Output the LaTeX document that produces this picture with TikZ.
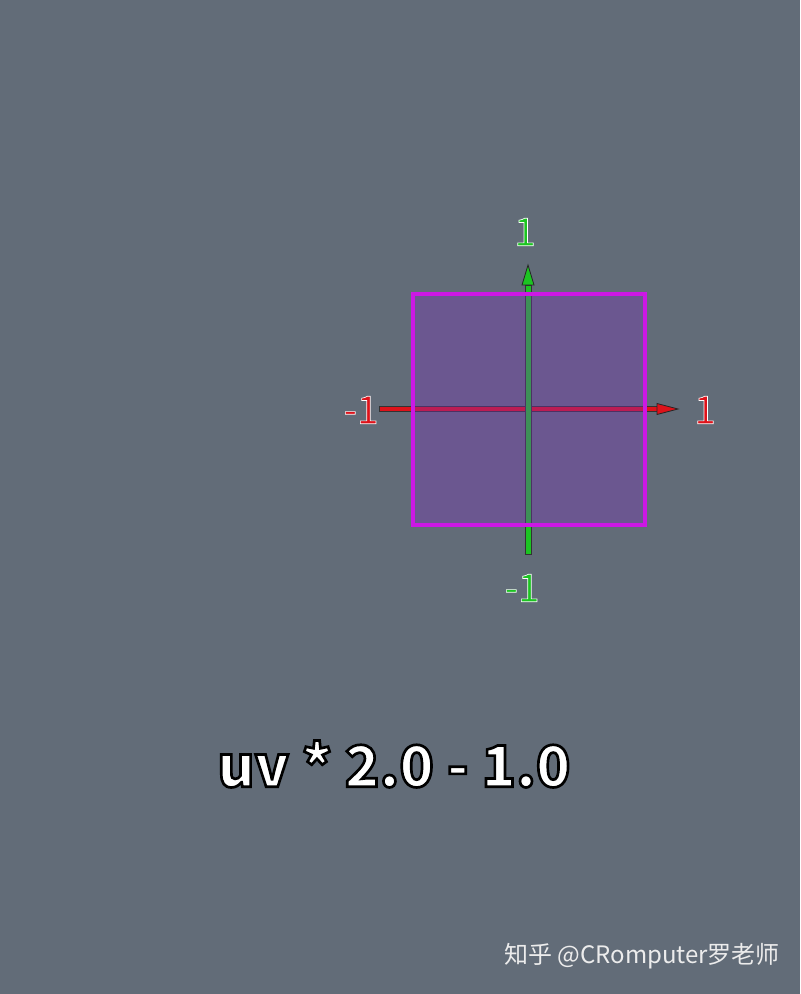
\documentclass[tikz,border=0pt]{standalone}
\usepackage{fontspec}
\usetikzlibrary{arrows.meta,calc}
\newfontfamily\cjk{Noto Sans CJK SC}

\definecolor{bgslate}{RGB}{98,108,120}
\definecolor{quadfill}{RGB}{126,48,191}
\definecolor{quadedge}{RGB}{204,24,228}
\definecolor{uaxis}{RGB}{222,18,26}
\definecolor{vaxis}{RGB}{28,196,34}
\definecolor{marktext}{RGB}{236,236,236}

% outlined text: fill, then stroke the glyph edges
\newcommand{\rimtext}[3]{\special{pdf:literal direct 2 Tr #2 w #1 RG}#3\special{pdf:literal direct 0 Tr}}

\tikzset{every picture/.style={line width=0.75pt}}
\tikzset{
  axisshaft/.style={draw=black!80, line width=0.6pt},
  axishead/.style={draw=black!85, line width=0.6pt, line join=miter},
  ulabel/.style={inner sep=0.75pt, font=\cjk\fontsize{29}{29}\selectfont, text=uaxis},
  vlabel/.style={inner sep=0.75pt, font=\cjk\fontsize{29}{29}\selectfont, text=vaxis},
}

\begin{document}
\begin{tikzpicture}[x=0.75pt,y=0.75pt,yscale=-1,xscale=1]
%Shape: Background
\fill [bgslate] (0,0) rectangle (800,994);
\useasboundingbox (0,0) rectangle (800,994);

%Coordinates of the two axes
\coordinate (uStart) at (379,409);
\coordinate (uBase) at (657,409);
\coordinate (uTip) at (678,409);
\coordinate (vStart) at (528,554);
\coordinate (vBase) at (528,285);
\coordinate (vTip) at (528,265);

%Shape: u axis (red)
\filldraw [axisshaft, fill=uaxis] ($(uStart)+(0,-2.8)$) rectangle ($(uBase)+(0,2.8)$) ;
\filldraw [axishead, fill=uaxis] ($(uBase)+(0,-5.5)$) -- (uTip) -- ($(uBase)+(0,5.5)$) -- cycle ;
%Shape: v axis (green)
\filldraw [axisshaft, fill=vaxis] ($(vStart)+(-3,0)$) rectangle ($(vBase)+(3,0)$) ;
\filldraw [axishead, fill=vaxis] ($(vBase)+(-6,0)$) -- (vTip) -- ($(vBase)+(6,0)$) -- cycle ;

%Shape: Square [-1,1]x[-1,1]
\fill [quadfill, fill opacity=0.35] (413,294) rectangle (645,525) ;
\draw [quadedge, line width=2.3pt] (413,294) rectangle (645,525) ;

%Text Node
\node (vPos) [vlabel] at (525,232) {\rimtext{1 1 1}{0.5}{1}};
\node (vNeg) [vlabel] at (522,588) {\rimtext{1 1 1}{0.5}{-1}};
\node (uNeg) [ulabel] at (361,410) {\rimtext{1 1 1}{0.5}{-1}};
\node (uPos) [ulabel] at (705,410) {\rimtext{1 1 1}{0.5}{1}};

%Text Node
\node (formula) [inner sep=0pt, text=white, font=\cjk\bfseries\fontsize{42.5}{42.5}\selectfont] at (394,764) {\rimtext{0 0 0}{2}{uv * 2.0 - 1.0}};

%Text Node
\node (mark) [inner sep=0pt, text=marktext, font=\cjk\fontsize{18}{18}\selectfont] at (642,956) {知乎 @CRomputer罗老师};

\end{tikzpicture}
\end{document}
